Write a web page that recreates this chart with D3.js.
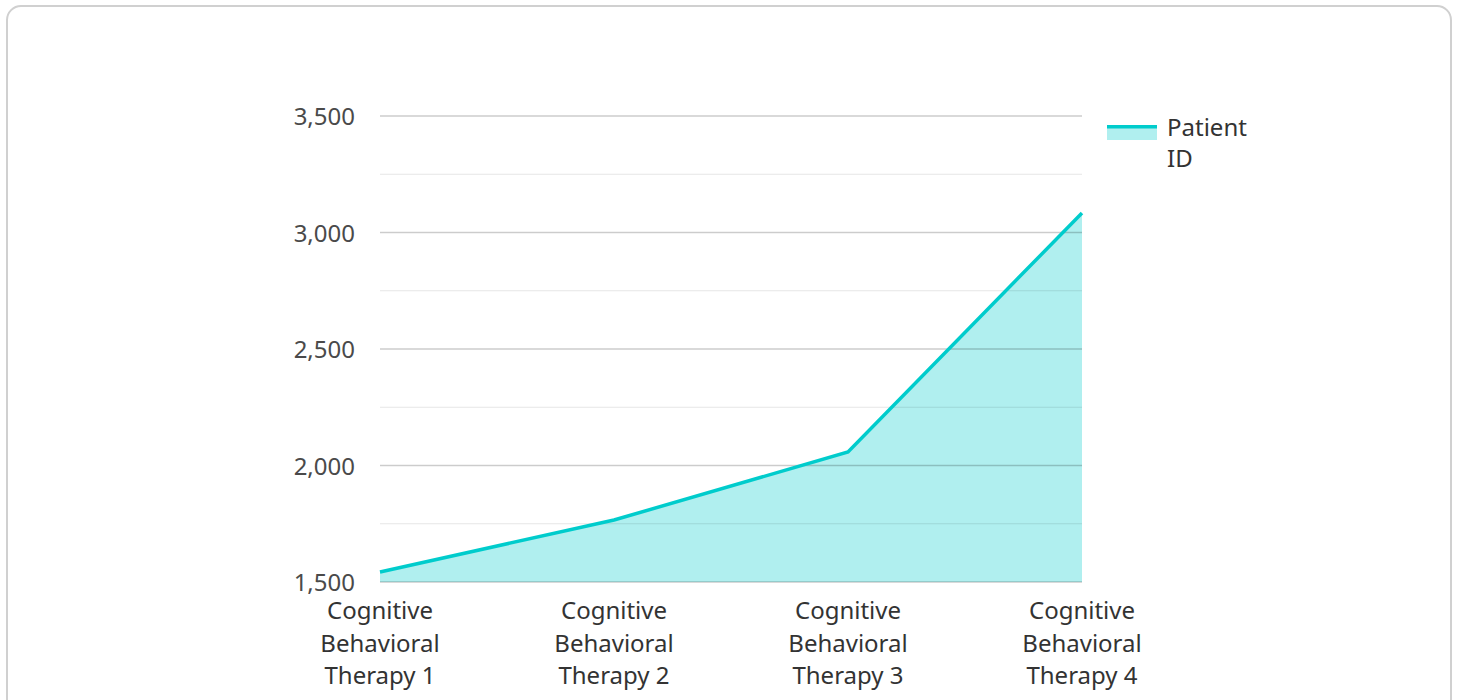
<!DOCTYPE html>
<html>
<head>
<meta charset="utf-8">
<script src="https://cdn.jsdelivr.net/npm/d3@7"></script>
<style>
  body { margin: 0; background: #fff; font-family: "Noto Sans", sans-serif; }
  svg { display: block; }
</style>
</head>
<body>
<script>
// chart data
var categories = ["Cognitive Behavioral Therapy 1", "Cognitive Behavioral Therapy 2",
  "Cognitive Behavioral Therapy 3", "Cognitive Behavioral Therapy 4"];
var patientId = [1543, 1766, 2058, 3084];
var yTicks = [1500, 2000, 2500, 3000, 3500];
var seriesName = "Patient ID";

var svgWidth = 1458, svgHeight = 700;
var margin = { top: 116, left: 380 };
var chartWidth = 702, chartHeight = 466;

var svg = d3.select("body").append("svg")
  .attr("width", svgWidth)
  .attr("height", svgHeight);

// card outline
svg.append("rect")
  .attr("x", 7).attr("y", 6)
  .attr("width", 1444).attr("height", 740)
  .attr("rx", 14)
  .attr("fill", "#fff")
  .attr("stroke", "#d0d0d0")
  .attr("stroke-width", 2);

var g = svg.append("g")
  .attr("transform", `translate(${margin.left}, ${margin.top})`);

var x = d3.scalePoint().domain(categories).range([0, chartWidth]).padding(0);
var y = d3.scaleLinear().domain([1500, 3500]).range([chartHeight, 0]);

// area under the line
var area = d3.area()
  .x((d, i) => x(categories[i]))
  .y0(y(1500))
  .y1(d => y(d));
g.append("path")
  .datum(patientId)
  .attr("d", area)
  .attr("fill", "#00cccc")
  .attr("fill-opacity", 0.31);

// grid lines (minor then major)
var minor = d3.range(1750, 3500, 500);
g.selectAll(".minor")
  .data(minor)
  .enter().append("line")
  .attr("x1", 0).attr("x2", chartWidth)
  .attr("y1", d => y(d)).attr("y2", d => y(d))
  .attr("stroke", "#000").attr("stroke-opacity", 0.1)
  .attr("stroke-width", 1);

g.selectAll(".major")
  .data(yTicks)
  .enter().append("line")
  .attr("x1", 0).attr("x2", chartWidth)
  .attr("y1", d => y(d)).attr("y2", d => y(d))
  .attr("stroke", "#000").attr("stroke-opacity", 0.2)
  .attr("stroke-width", 1.5);

// y axis labels
var yAxis = g.append("g")
  .call(d3.axisLeft(y).tickValues(yTicks).tickFormat(d3.format(",")).tickSize(0).tickPadding(25));
yAxis.select(".domain").remove();
yAxis.selectAll("text")
  .attr("font-family", "Noto Sans")
  .attr("font-size", 24)
  .attr("dy", "0.36em")
  .attr("fill", "#4a4a4a");

// line
var line = d3.line()
  .x((d, i) => x(categories[i]))
  .y(d => y(d));
g.append("path")
  .datum(patientId)
  .attr("d", line)
  .attr("fill", "none")
  .attr("stroke", "#00cccc")
  .attr("stroke-width", 3.5);

// x labels wrapped on three lines
var xl = g.selectAll(".xlabel")
  .data(categories)
  .enter().append("text")
  .attr("text-anchor", "middle")
  .attr("font-family", "Noto Sans")
  .attr("font-size", 24)
  .attr("fill", "#333");
xl.each(function(d) {
  var words = d.split(" ");
  var lines = [words[0], words[1], words.slice(2).join(" ")];
  var t = d3.select(this);
  lines.forEach(function(w, i) {
    t.append("tspan")
      .attr("x", x(d))
      .attr("y", chartHeight + 37 + i * 32.5)
      .text(w);
  });
});

// legend
var lg = svg.append("g").attr("transform", "translate(1107, 125)");
lg.append("rect")
  .attr("x", 0).attr("y", 0).attr("width", 50).attr("height", 15)
  .attr("fill", "#00cccc").attr("fill-opacity", 0.31);
lg.append("rect")
  .attr("x", 0).attr("y", 0).attr("width", 50).attr("height", 3.5)
  .attr("fill", "#00cccc");
var lt = lg.append("text")
  .attr("font-family", "Noto Sans")
  .attr("font-size", 24)
  .attr("fill", "#333");
seriesName.split(" ").forEach(function(w, i) {
  lt.append("tspan").attr("x", 60).attr("y", 11 + i * 31).text(w);
});
</script>
</body>
</html>
